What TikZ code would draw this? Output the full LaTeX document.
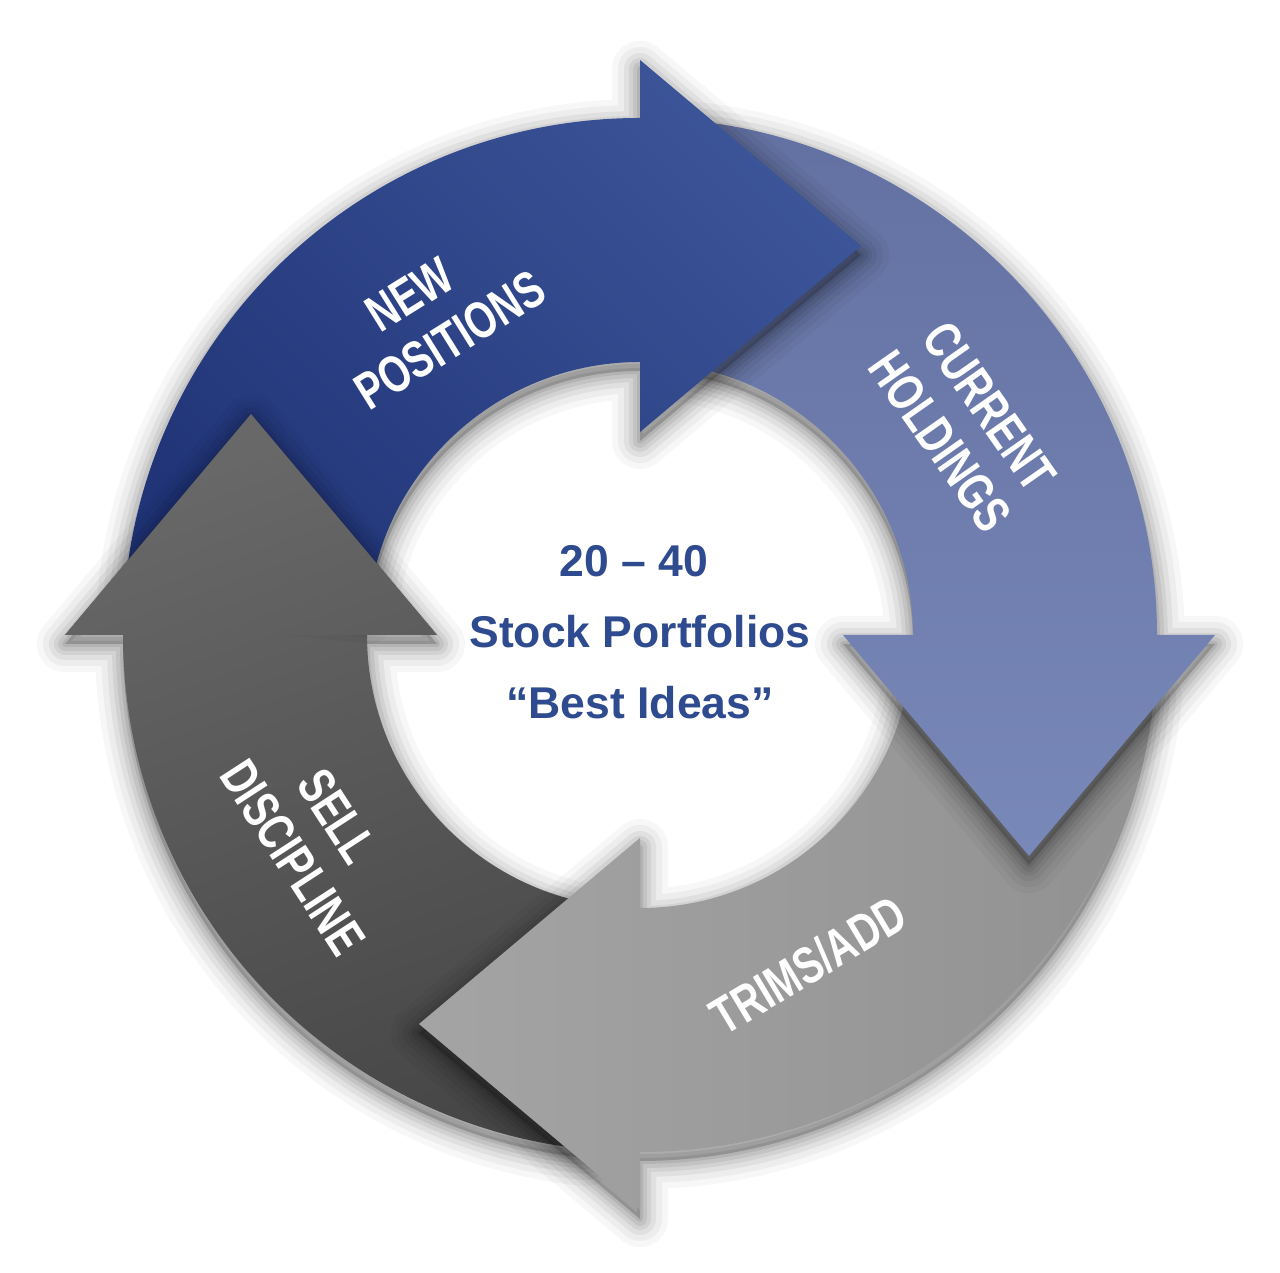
\documentclass[tikz,border=0pt]{standalone}
\usepackage{fontspec}
\setmainfont{Liberation Sans}
\newfontfamily\labfont[FakeStretch=0.75]{Liberation Sans}

\definecolor{npA}{HTML}{3C5598}
\definecolor{npB}{HTML}{213478}
\definecolor{chA}{HTML}{6371A2}
\definecolor{chB}{HTML}{7888B8}
\definecolor{taA}{HTML}{A4A4A4}
\definecolor{taB}{HTML}{919191}
\definecolor{sdA}{HTML}{686868}
\definecolor{sdB}{HTML}{474747}
\definecolor{ctr}{HTML}{2F4B8F}

\tikzset{
  arrowshape/.style n args={2}{insert path={(#1+90-#2:517) arc[start angle=#1+90-#2, end angle=#1, radius=517] -- (#1:575) -- (#1-29.6:447.4) -- (#1:203) -- (#1:273) arc[start angle=#1, end angle=#1+90-#2, radius=273] -- cycle}},
  headshape/.style={insert path={(#1:575) -- (#1-29.6:447.4) -- (#1:203) -- cycle}},
  shadowlayer/.style={draw=black, draw opacity=#1, line join=round},
  lab/.style={text=white, font=\labfont\bfseries\fontsize{52}{60}\selectfont, align=center, inner sep=0pt},
  ctrtext/.style={text=ctr, font=\bfseries\fontsize{44.5}{50}\selectfont, anchor=base, inner sep=0pt},
}

\newcommand\dropshade[2]{%
  \begin{scope}[yshift=-9pt]
    \foreach \w/\o in {56/0.03,44/0.04,32/0.05,22/0.06,14/0.07,6/0.08}{
      \path[shadowlayer=\o, line width=\w pt, arrowshape={#1}{#2}];
    }
    \fill[black, fill opacity=0.18, arrowshape={#1}{#2}];
  \end{scope}}

\newcommand\dropshadehead[1]{%
  \begin{scope}[yshift=-9pt]
    \foreach \w/\o in {56/0.03,44/0.04,32/0.05,22/0.06,14/0.07,6/0.08}{
      \path[shadowlayer=\o, line width=\w pt, headshape=#1];
    }
    \fill[black, fill opacity=0.18, headshape=#1];
  \end{scope}}

\begin{document}
\begin{tikzpicture}[x=1pt,y=1pt]
  \fill[white] (0,0) rectangle (1280,1273);
  \path[use as bounding box] (0,0) rectangle (1280,1273);
  \begin{scope}[shift={(640,638)}]
    % SELL DISCIPLINE
    \dropshade{180}{6}
    \shade[top color=sdA, bottom color=sdB, shading angle=20, arrowshape={180}{0}];
    % TRIMS/ADD
    \dropshade{-90}{6}
    \shade[left color=taA, right color=taB, arrowshape={-90}{0}];
    % CURRENT HOLDINGS
    \dropshade{0}{6}
    \shade[top color=chA, bottom color=chB, arrowshape={0}{0}];
    % NEW POSITIONS
    \dropshade{90}{6}
    \shade[top color=npA, bottom color=npB, shading angle=-45, arrowshape={90}{0}];
    % SELL head on top of NEW POSITIONS body
    \begin{scope}
      \clip[arrowshape={90}{0}];
      \dropshadehead{180}
    \end{scope}
    \begin{scope}
      \clip[headshape=180];
      \shade[top color=sdA, bottom color=sdB, shading angle=20, arrowshape={180}{0}];
    \end{scope}

    % labels
    \node[lab, rotate=32] (np) at (-206,320) {NEW\hspace*{20pt}\\POSITIONS};
    \node[lab, rotate=-55] (ch) at (325,211) {CURRENT\\HOLDINGS};
    \node[lab, rotate=31] (ta) at (168,-330) {TRIMS/ADD};
    \node[lab, rotate=-57] (sd) at (-322,-206) {SELL\hspace*{20pt}\\DISCIPLINE};

    % centre text
    \node[ctrtext] (c1) at (-6,58) {20 – 40};
    \node[ctrtext] (c2) at (0,-13) {Stock Portfolios};
    \node[ctrtext] (c3) at (0,-84) {“Best Ideas”};
  \end{scope}
\end{tikzpicture}
\end{document}
